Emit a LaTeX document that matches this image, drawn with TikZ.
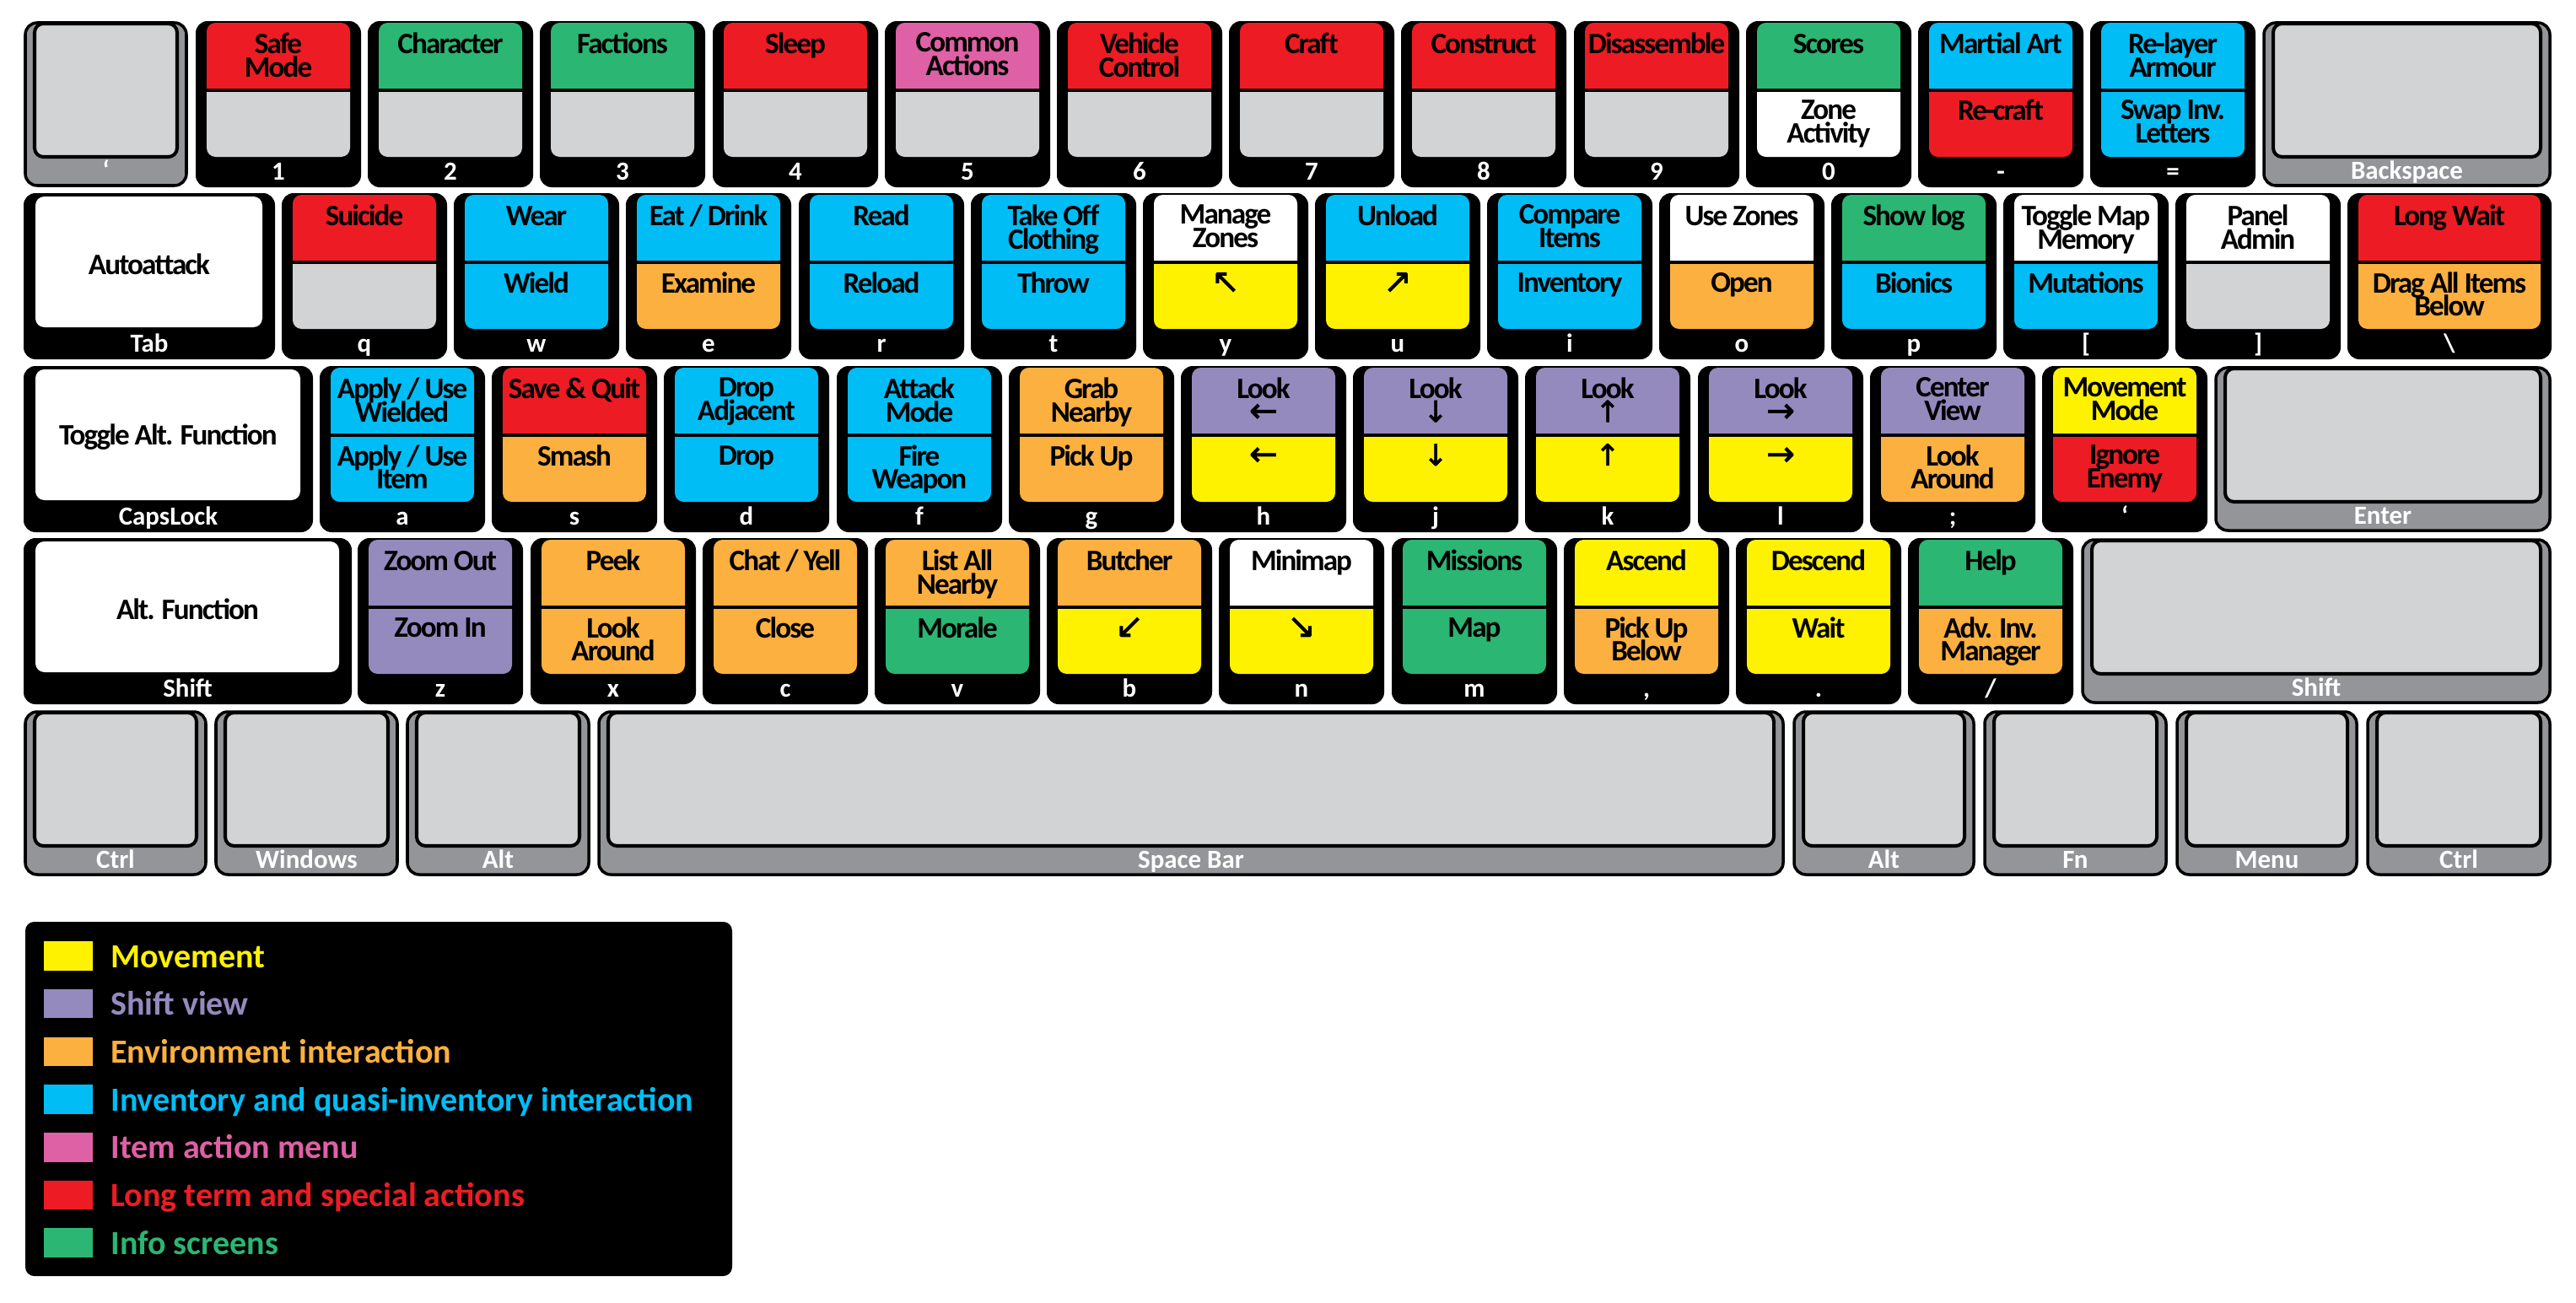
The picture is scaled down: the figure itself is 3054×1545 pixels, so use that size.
\documentclass[tikz,border=0pt]{standalone}
\usepackage{fontspec}
\setmainfont{Carlito}
\newfontfamily\keyfont{Carlito}[LetterSpace=-5.5]
\newfontfamily\arrowfont{DejaVu Sans}[FakeBold=1.6]
\setlength{\lineskiplimit}{-30pt}
\definecolor{redkey}{HTML}{ED1C24}
\definecolor{greenkey}{HTML}{2BB673}
\definecolor{bluekey}{HTML}{00BDF5}
\definecolor{yellowkey}{HTML}{FFF200}
\definecolor{purplekey}{HTML}{958ABE}
\definecolor{orangekey}{HTML}{FBB040}
\definecolor{pinkkey}{HTML}{DE60A5}
\definecolor{capgray}{HTML}{D1D3D4}
\definecolor{bodygray}{HTML}{939598}
\tikzset{
        keybody/.style={fill=black,rounded corners=8pt},
        graybody/.style={draw=black,fill=bodygray,line width=2pt,rounded corners=8pt},
        graycap/.style={draw=black,fill=capgray,line width=2.3pt,rounded corners=6pt},
        keytext/.style={anchor=north,inner sep=0pt,align=center,text=black,
                font=\keyfont\bfseries\fontsize{20}{15.9}\selectfont\rule{0pt}{14pt}},
        keylabel/.style={anchor=base,inner sep=0pt,text=white,
                font=\bfseries\fontsize{17.6}{18}\selectfont},
        swatch/.style={fill=#1,inner sep=0pt,minimum width=1.16cm,minimum height=.69cm},
        legendtext/.style={anchor=base west,inner sep=0pt,text=#1,
                font=\bfseries\fontsize{22.8}{24}\selectfont},
}
\newcommand{\ar}[1]{\smash{\arrowfont\mdseries\fontsize{23}{15.9}\selectfont #1}}
\newcommand{\arv}[1]{\smash{\arrowfont\mdseries\fontsize{20}{15.9}\selectfont #1}}
% name, left, right, row top, upper colour, upper text, lower colour, lower text, label
\newcommand{\keypair}[9]{
        \fill[keybody] (#2,#4) rectangle (#3,#4+197);
        \fill[#5] (#2+13,#4+80) [rounded corners=6pt] -- (#2+13,#4+2) -- (#3-13,#4+2) [sharp corners] -- (#3-13,#4+80) -- cycle;
        \fill[#7] (#2+13,#4+84) [rounded corners=6pt] -- (#2+13,#4+161) -- (#3-13,#4+161) [sharp corners] -- (#3-13,#4+84) -- cycle;
        \node[keytext] (#1-up) at ({(#2+#3)/2},#4+13.5) {#6};
        \node[keytext] (#1-low) at ({(#2+#3)/2},#4+93) {#8};
        \node[keylabel] (#1-label) at ({(#2+#3)/2},#4+188) {#9};
}
% name, left, right, row top, text, label
\newcommand{\keywide}[6]{
        \fill[keybody] (#2,#4) rectangle (#3,#4+197);
        \fill[white,rounded corners=6pt] (#2+14,#4+4) rectangle (#3-15,#4+159);
        \node[inner sep=0pt,text=black,font=\keyfont\bfseries\fontsize{20}{15.9}\selectfont] (#1-up) at ({(#2+#3)/2},#4+84) {#5};
        \node[keylabel] (#1-label) at ({(#2+#3)/2},#4+188) {#6};
}
% name, left, right, row top, label
\newcommand{\keygray}[5]{
        \draw[graybody] (#2+2,#4+2) rectangle (#3-2,#4+195);
        \draw[graycap] (#2+13,#4+3) rectangle (#3-13,#4+161);
        \node[keylabel] (#1-label) at ({(#2+#3)/2},#4+187) {#5};
}
\begin{document}
\begin{tikzpicture}[x=.02cm,y=-.02cm]
        \useasboundingbox (0,0) rectangle (3054,1545);
        % number row
        \keygray{grave}{28}{223}{25}{\char"60}
        \keypair{one}{232}{428}{25}{redkey}{Safe\\Mode}{capgray}{}{1}
        \keypair{two}{436}{632}{25}{greenkey}{Character}{capgray}{}{2}
        \keypair{three}{640}{836}{25}{greenkey}{Factions}{capgray}{}{3}
        \keypair{four}{845}{1041}{25}{redkey}{Sleep}{capgray}{}{4}
        \keypair{five}{1049}{1245}{25}{pinkkey}{Common\\Actions}{capgray}{}{5}
        \keypair{six}{1253}{1449}{25}{redkey}{Vehicle\\Control}{capgray}{}{6}
        \keypair{seven}{1457}{1653}{25}{redkey}{Craft}{capgray}{}{7}
        \keypair{eight}{1661}{1857}{25}{redkey}{Construct}{capgray}{}{8}
        \keypair{nine}{1866}{2062}{25}{redkey}{Disassemble}{capgray}{}{9}
        \keypair{zero}{2070}{2266}{25}{greenkey}{Scores}{white}{Zone\\Activity}{0}
        \keypair{minus}{2274}{2470}{25}{bluekey}{Martial Art}{redkey}{Re-craft}{-}
        \keypair{equal}{2478}{2674}{25}{bluekey}{Re-layer\\Armour}{bluekey}{Swap Inv.\\Letters}{=}
        \keygray{backspace}{2682}{3025}{25}{Backspace}
        % top letter row
        \keywide{tab}{28}{326}{229}{Autoattack}{Tab}
        \keypair{q}{334}{530}{229}{redkey}{Suicide}{capgray}{}{q}
        \keypair{w}{538}{734}{229}{bluekey}{Wear}{bluekey}{Wield}{w}
        \keypair{e}{742}{938}{229}{bluekey}{Eat / Drink}{orangekey}{Examine}{e}
        \keypair{r}{947}{1143}{229}{bluekey}{Read}{bluekey}{Reload}{r}
        \keypair{t}{1151}{1347}{229}{bluekey}{Take Off\\Clothing}{bluekey}{Throw}{t}
        \keypair{y}{1355}{1551}{229}{white}{Manage\\Zones}{yellowkey}{\ar{↖}}{y}
        \keypair{u}{1559}{1755}{229}{bluekey}{Unload}{yellowkey}{\ar{↗}}{u}
        \keypair{i}{1763}{1959}{229}{bluekey}{Compare\\Items}{bluekey}{Inventory}{i}
        \keypair{o}{1967}{2163}{229}{white}{Use Zones}{orangekey}{Open}{o}
        \keypair{p}{2171}{2367}{229}{greenkey}{Show log}{bluekey}{Bionics}{p}
        \keypair{lbracket}{2375}{2571}{229}{white}{Toggle Map\\Memory}{bluekey}{Mutations}{[}
        \keypair{rbracket}{2579}{2775}{229}{white}{Panel\\Admin}{capgray}{}{]}
        \keypair{backslash}{2783}{3025}{229}{redkey}{Long Wait}{orangekey}{Drag All Items\\Below}{\textbackslash}
        % home row
        \keywide{caps}{28}{371}{434}{Toggle Alt. Function}{CapsLock}
        \keypair{a}{379}{575}{434}{bluekey}{Apply / Use\\Wielded}{bluekey}{Apply / Use\\Item}{a}
        \keypair{s}{583}{779}{434}{redkey}{Save \& Quit}{orangekey}{Smash}{s}
        \keypair{d}{787}{983}{434}{bluekey}{Drop\\Adjacent}{bluekey}{Drop}{d}
        \keypair{f}{992}{1188}{434}{bluekey}{Attack\\Mode}{bluekey}{Fire\\Weapon}{f}
        \keypair{g}{1196}{1392}{434}{orangekey}{Grab\\Nearby}{orangekey}{Pick Up}{g}
        \keypair{h}{1400}{1596}{434}{purplekey}{Look\\\ar{←}}{yellowkey}{\ar{←}}{h}
        \keypair{j}{1604}{1800}{434}{purplekey}{Look\\\arv{↓}}{yellowkey}{\arv{↓}}{j}
        \keypair{k}{1808}{2004}{434}{purplekey}{Look\\\arv{↑}}{yellowkey}{\arv{↑}}{k}
        \keypair{l}{2013}{2209}{434}{purplekey}{Look\\\ar{→}}{yellowkey}{\ar{→}}{l}
        \keypair{semi}{2217}{2413}{434}{purplekey}{Center\\View}{orangekey}{Look\\Around}{;}
        \keypair{quote}{2421}{2617}{434}{yellowkey}{Movement\\Mode}{redkey}{Ignore\\Enemy}{‘}
        \keygray{enter}{2625}{3025}{434}{Enter}
        % bottom letter row
        \keywide{lshift}{28}{417}{638}{Alt. Function}{Shift}
        \keypair{z}{424}{620}{638}{purplekey}{Zoom Out}{purplekey}{Zoom In}{z}
        \keypair{x}{629}{825}{638}{orangekey}{Peek}{orangekey}{Look\\Around}{x}
        \keypair{c}{833}{1029}{638}{orangekey}{Chat / Yell}{orangekey}{Close}{c}
        \keypair{v}{1037}{1233}{638}{orangekey}{List All\\Nearby}{greenkey}{Morale}{v}
        \keypair{b}{1241}{1437}{638}{orangekey}{Butcher}{yellowkey}{\ar{↙}}{b}
        \keypair{n}{1445}{1641}{638}{white}{Minimap}{yellowkey}{\ar{↘}}{n}
        \keypair{m}{1650}{1846}{638}{greenkey}{Missions}{greenkey}{Map}{m}
        \keypair{comma}{1854}{2050}{638}{yellowkey}{Ascend}{orangekey}{Pick Up\\Below}{,}
        \keypair{period}{2058}{2254}{638}{yellowkey}{Descend}{yellowkey}{Wait}{.}
        \keypair{slash}{2262}{2458}{638}{greenkey}{Help}{orangekey}{Adv. Inv.\\Manager}{/}
        \keygray{rshift}{2467}{3025}{638}{Shift}
        % space row
        \keygray{lctrl}{28}{246}{842}{Ctrl}
        \keygray{win}{254}{473}{842}{Windows}
        \keygray{lalt}{481}{700}{842}{Alt}
        \keygray{space}{708}{2116}{842}{Space Bar}
        \keygray{ralt}{2125}{2342}{842}{Alt}
        \keygray{fn}{2351}{2570}{842}{Fn}
        \keygray{menu}{2579}{2796}{842}{Menu}
        \keygray{rctrl}{2805}{3025}{842}{Ctrl}
        % legend
        \fill[black,rounded corners=6pt] (30,1093) rectangle (868,1513);
        \foreach \colr/\txt [count=\i from 0] in {yellowkey/Movement,purplekey/Shift view,orangekey/Environment interaction,bluekey/Inventory and quasi-inventory interaction,pinkkey/Item action menu,redkey/Long term and special actions,greenkey/Info screens} {
                \node[swatch=\colr] (swatch\i) at (81,1133.5+56.7*\i) {};
                \node[legendtext=\colr] (legend\i) at (131,1147+56.7*\i) {\txt};
        }
\end{tikzpicture}
\end{document}
